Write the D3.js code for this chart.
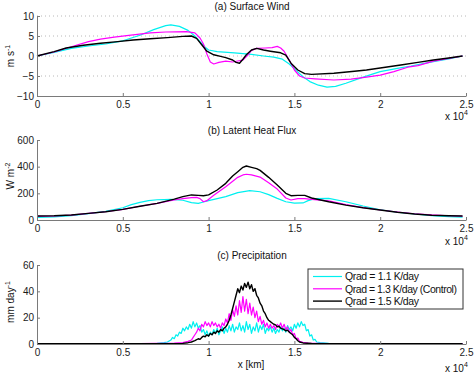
<!DOCTYPE html>
<html>
<head>
<meta charset="utf-8">
<script src="https://cdn.jsdelivr.net/npm/d3@7"></script>
<style>
  body { margin: 0; background: #fff; }
  svg { font-family: "Liberation Sans", Arial, sans-serif; }
</style>
</head>
<body>
<div id="visual"></div>
<script>
// x positions are in units of 10^4 km; each series is a list of [x, value]
const xTicks = [0, 0.5, 1, 1.5, 2, 2.5];
const xTickLabels = ["0", "0.5", "1", "1.5", "2", "2.5"];
const seriesNames = ["Qrad = 1.1 K/day", "Qrad = 1.3 K/day (Control)", "Qrad = 1.5 K/day"];

// (a) surface wind, m/s
const windTicks = [-10, -5, 0, 5, 10];
const windCyan = [[0,0],[0.1,0.9],[0.2,1.9],[0.3,2.5],[0.4,3.0],[0.5,3.8],[0.6,5.2],[0.68,6.6],[0.75,7.6],[0.78,7.8],[0.83,7.4],[0.88,6.4],[0.92,5.0],[0.95,3.6],[0.98,2.2],[1.0,1.5],[1.05,1.1],[1.15,0.8],[1.25,0.4],[1.32,0],[1.38,-0.3],[1.43,-0.8],[1.47,-2.0],[1.51,-3.6],[1.55,-5.2],[1.59,-6.4],[1.64,-7.3],[1.69,-7.8],[1.74,-7.6],[1.8,-6.8],[1.88,-5.6],[1.95,-4.6],[2.0,-3.9],[2.1,-3.1],[2.18,-2.5],[2.25,-1.9],[2.31,-1.4],[2.4,-0.7],[2.48,0]];
const windMagenta = [[0,0],[0.1,1.0],[0.2,2.3],[0.3,3.6],[0.37,4.2],[0.45,4.7],[0.56,5.3],[0.66,5.8],[0.75,6.0],[0.87,6.1],[0.92,5.8],[0.95,4.5],[0.97,3.0],[0.99,0.5],[1.01,-1.5],[1.03,-2.0],[1.06,-1.6],[1.1,-1.3],[1.14,-1.5],[1.2,-1.0],[1.23,0.3],[1.25,1.4],[1.28,1.9],[1.33,2.0],[1.37,2.1],[1.40,2.4],[1.42,2.0],[1.44,1.2],[1.47,-1.0],[1.50,-3.5],[1.53,-5.0],[1.56,-5.5],[1.62,-5.7],[1.73,-6.0],[1.83,-5.8],[1.92,-5.3],[2.0,-4.8],[2.08,-3.9],[2.16,-2.8],[2.22,-2.4],[2.31,-1.3],[2.4,-0.6],[2.48,0]];
const windBlack = [[0,0],[0.1,1.1],[0.17,2.0],[0.27,2.7],[0.37,3.2],[0.47,3.6],[0.56,4.0],[0.66,4.3],[0.76,4.6],[0.85,4.9],[0.9,5.0],[0.93,4.4],[0.96,2.8],[0.99,1.2],[1.03,0.3],[1.07,-0.1],[1.1,-0.4],[1.14,-1.0],[1.16,-1.6],[1.18,-1.8],[1.2,-0.8],[1.22,0.3],[1.25,1.5],[1.28,1.9],[1.32,1.5],[1.36,1.2],[1.42,0.8],[1.45,0.2],[1.48,-1.8],[1.52,-3.5],[1.56,-4.4],[1.6,-4.6],[1.73,-4.3],[1.85,-3.8],[1.92,-3.5],[2.0,-3.0],[2.12,-2.25],[2.22,-1.6],[2.31,-1.0],[2.4,-0.5],[2.48,0]];

// (b) latent heat flux, W/m2
const lhfTicks = [0, 200, 400, 600];
const lhfCyan = [[0,20],[0.1,24],[0.2,33],[0.3,48],[0.4,65],[0.5,92],[0.55,115],[0.6,132],[0.65,145],[0.7,152],[0.78,155],[0.85,148],[0.9,130],[0.94,125],[0.97,135],[1.0,145],[1.05,160],[1.1,175],[1.17,205],[1.24,220],[1.3,212],[1.35,190],[1.4,162],[1.45,137],[1.5,127],[1.55,128],[1.58,145],[1.62,160],[1.7,162],[1.8,137],[1.9,105],[2.0,77],[2.1,58],[2.2,45],[2.3,32],[2.4,25],[2.48,22]];
const lhfMagenta = [[0,27],[0.1,30],[0.2,37],[0.3,50],[0.4,62],[0.5,80],[0.6,103],[0.7,125],[0.8,150],[0.85,160],[0.9,168],[0.93,170],[0.95,160],[0.97,137],[0.99,145],[1.03,185],[1.1,250],[1.17,320],[1.2,338],[1.22,343],[1.25,338],[1.3,322],[1.35,280],[1.4,232],[1.45,165],[1.48,150],[1.52,160],[1.56,160],[1.6,155],[1.7,143],[1.8,115],[1.9,93],[2.0,75],[2.1,60],[2.2,47],[2.3,38],[2.4,32],[2.48,28]];
const lhfBlack = [[0,30],[0.1,32],[0.2,38],[0.3,50],[0.4,62],[0.5,80],[0.6,103],[0.7,125],[0.8,157],[0.85,175],[0.9,188],[0.94,185],[0.97,182],[1.0,188],[1.05,225],[1.1,275],[1.14,330],[1.17,362],[1.2,395],[1.22,405],[1.25,395],[1.28,385],[1.3,372],[1.35,320],[1.4,262],[1.45,200],[1.48,182],[1.52,185],[1.56,185],[1.6,165],[1.7,137],[1.8,112],[1.9,92],[2.0,75],[2.1,58],[2.2,45],[2.3,36],[2.4,32],[2.48,30]];

// (c) precipitation, mm/day
const precTicks = [0, 20, 40, 60];
const precCyan = [[0,0.3],[0.5,0.3],[0.7,0.5],[0.74,1],[0.76,1.5],[0.78,3],[0.79,5],[0.80,4],[0.81,7],[0.82,6],[0.83,9],[0.84,8],[0.85,12],[0.86,10],[0.87,13],[0.88,11],[0.89,15],[0.90,12],[0.91,17],[0.92,13],[0.93,16],[0.94,12],[0.95,14],[0.96,9],[0.97,11],[0.98,7],[0.99,10],[1.00,6],[1.01,9],[1.02,7],[1.03,11],[1.04,8],[1.05,12],[1.06,7],[1.07,10],[1.08,13],[1.09,8],[1.10,12],[1.11,9],[1.12,14],[1.13,10],[1.14,15],[1.15,9],[1.16,13],[1.17,11],[1.18,16],[1.19,10],[1.20,14],[1.21,9],[1.22,17],[1.23,11],[1.24,15],[1.25,8],[1.26,13],[1.27,10],[1.28,16],[1.29,9],[1.30,14],[1.31,11],[1.32,15],[1.33,8],[1.34,12],[1.35,10],[1.36,13],[1.37,9],[1.38,12],[1.39,8],[1.40,11],[1.41,9],[1.42,13],[1.43,10],[1.44,12],[1.45,9],[1.46,14],[1.47,11],[1.48,13],[1.49,10],[1.50,15],[1.51,12],[1.52,16],[1.53,13],[1.54,17],[1.55,14],[1.56,15],[1.57,10],[1.58,11],[1.59,6],[1.60,7],[1.61,3],[1.62,3.5],[1.63,1.5],[1.65,1],[1.7,0.5],[2.0,0.3],[2.48,0.3]];
const precMagenta = [[0,0.3],[0.6,0.3],[0.8,0.6],[0.85,1],[0.88,2],[0.90,3],[0.91,5],[0.92,7],[0.93,9],[0.94,12],[0.95,10],[0.96,15],[0.97,13],[0.98,17],[0.99,14],[1.00,16],[1.01,13],[1.02,17],[1.03,14],[1.04,16],[1.05,13],[1.06,15],[1.07,12],[1.08,16],[1.09,14],[1.10,19],[1.11,16],[1.12,23],[1.13,18],[1.14,26],[1.15,21],[1.16,29],[1.17,22],[1.18,33],[1.19,24],[1.20,36],[1.21,25],[1.22,34],[1.23,23],[1.24,31],[1.25,22],[1.26,28],[1.27,20],[1.28,25],[1.29,17],[1.30,21],[1.31,15],[1.32,18],[1.33,13],[1.34,16],[1.35,12],[1.36,15],[1.37,12],[1.38,14],[1.39,11],[1.40,15],[1.41,13],[1.42,16],[1.43,12],[1.44,15],[1.45,11],[1.46,13],[1.47,9],[1.48,11],[1.49,7],[1.50,8],[1.51,4],[1.52,4.5],[1.53,2],[1.55,1.2],[1.58,0.6],[1.7,0.3],[2.48,0.3]];
const precBlack = [[0,0.3],[0.7,0.3],[0.85,0.5],[0.88,1],[0.90,1.5],[0.92,2.5],[0.94,4],[0.95,3.5],[0.96,5],[0.97,6],[0.98,5.5],[0.99,7],[1.00,6],[1.01,8],[1.02,7],[1.03,9],[1.04,8],[1.05,10],[1.06,9],[1.07,11],[1.08,10],[1.09,12],[1.10,13],[1.11,15],[1.12,18],[1.13,22],[1.14,27],[1.15,32],[1.16,37],[1.17,42],[1.18,39],[1.19,44],[1.20,41],[1.21,46],[1.22,43],[1.23,47],[1.24,42],[1.25,45],[1.26,40],[1.27,42],[1.28,37],[1.29,35],[1.30,31],[1.31,29],[1.32,25],[1.33,23],[1.34,20],[1.35,18],[1.36,17],[1.37,16],[1.38,15],[1.39,14.5],[1.40,13],[1.41,13.5],[1.42,12],[1.43,11.5],[1.44,11],[1.45,10],[1.46,10.5],[1.47,9],[1.48,8],[1.49,7],[1.50,5],[1.51,4],[1.52,2.5],[1.53,1.5],[1.55,0.8],[1.6,0.4],[2.48,0.3]];

const colors = ["#00f0f0", "#ff00ff", "#000000"];

const width = 474, height = 373;
const svg = d3.select("#visual").append("svg")
    .attr("width", width)
    .attr("height", height);

const x = d3.scaleLinear().domain([0, 2.5]).range([37, 466]);

// one panel: title, axes, lines
function panel(opts) {
    const y = d3.scaleLinear().domain(opts.domain).range([opts.bottom, opts.top]);
    const g = svg.append("g");

    if (opts.grid) {
        g.selectAll(".grid")
            .data(opts.yTicks.filter(d => d !== opts.domain[0]))
            .enter().append("line")
            .attr("x1", x(0)).attr("x2", x(2.5))
            .attr("y1", d => y(d)).attr("y2", d => y(d))
            .attr("stroke", "#b8b8b8")
            .attr("stroke-width", 1)
            .attr("stroke-dasharray", "1,3");
    }

    const line = d3.line()
        .x(d => x(d[0]))
        .y(d => y(d[1]));

    opts.series.forEach((s, i) => {
        g.append("path")
            .datum(s)
            .attr("fill", "none")
            .attr("stroke", colors[i])
            .attr("stroke-width", i === 2 ? 1.4 : 1.2)
            .attr("stroke-linejoin", "round")
            .attr("d", line);
    });

    const xAxis = g.append("g")
        .attr("transform", "translate(0," + opts.bottom + ")")
        .call(d3.axisBottom(x).tickValues(xTicks)
            .tickFormat((d, i) => xTickLabels[i])
            .tickSizeInner(-3).tickSizeOuter(0).tickPadding(5));

    const yAxis = g.append("g")
        .attr("transform", "translate(" + x(0) + ",0)")
        .call(d3.axisLeft(y).tickValues(opts.yTicks)
            .tickSizeInner(-3).tickSizeOuter(0).tickPadding(3));

    [xAxis, yAxis].forEach(a => {
        a.select(".domain").attr("stroke", "#7a7a7a");
        a.selectAll(".tick line").attr("stroke", "#7a7a7a");
        a.selectAll(".tick text").attr("fill", "#1a1a1a").attr("font-size", 10);
        a.attr("font-family", null);
    });

    g.append("text")
        .attr("x", 252).attr("y", opts.top - 6)
        .attr("text-anchor", "middle")
        .attr("font-size", 10)
        .attr("fill", "#111")
        .text(opts.title);

    // x 10^4 multiplier
    const m = g.append("text")
        .attr("x", 445).attr("y", opts.multY)
        .attr("font-size", 10)
        .attr("fill", "#111");
    m.append("tspan").text("x 10");
    m.append("tspan").attr("dy", -5).attr("font-size", 7).text("4");

    // y label with superscript
    const yl = g.append("text")
        .attr("transform", "translate(14," + opts.labelY + ") rotate(-90)")
        .attr("text-anchor", "middle")
        .attr("font-size", 10)
        .attr("fill", "#111");
    yl.append("tspan").text(opts.unit);
    yl.append("tspan").attr("dy", -4).attr("font-size", 7).text(opts.power);

    return y;
}

panel({ top: 16, bottom: 96, domain: [-10, 10], yTicks: windTicks, grid: true,
    series: [windCyan, windMagenta, windBlack], title: "(a) Surface Wind",
    unit: "m s", power: "-1", labelY: 56, multY: 120 });

panel({ top: 140, bottom: 220, domain: [0, 600], yTicks: lhfTicks,
    series: [lhfCyan, lhfMagenta, lhfBlack], title: "(b) Latent Heat Flux",
    unit: "W m", power: "-2", labelY: 176, multY: 245 });

panel({ top: 265, bottom: 344, domain: [0, 60], yTicks: precTicks,
    series: [precCyan, precMagenta, precBlack], title: "(c) Precipitation",
    unit: "mm day", power: "-1", labelY: 302, multY: 372 });

svg.append("text")
    .attr("x", 251).attr("y", 368)
    .attr("text-anchor", "middle")
    .attr("font-size", 10)
    .attr("fill", "#111")
    .text("x [km]");

// legend
const legendWidths = [74, 112, 74];
const legend = svg.append("g").attr("transform", "translate(308,269)");
legend.append("rect")
    .attr("width", 155).attr("height", 40)
    .attr("fill", "#fff")
    .attr("stroke", "#333")
    .attr("stroke-width", 1);
seriesNames.forEach((name, i) => {
    const yy = 7.5 + i * 12.3;
    legend.append("line")
        .attr("x1", 5).attr("x2", 34)
        .attr("y1", yy).attr("y2", yy)
        .attr("stroke", colors[i])
        .attr("stroke-width", i === 2 ? 1.4 : 1.2);
    legend.append("text")
        .attr("x", 37).attr("y", yy + 3.8)
        .attr("font-size", 10.5)
        .attr("fill", "#111")
        .attr("textLength", legendWidths[i])
        .attr("lengthAdjust", "spacing")
        .text(name);
});
</script>
</body>
</html>
